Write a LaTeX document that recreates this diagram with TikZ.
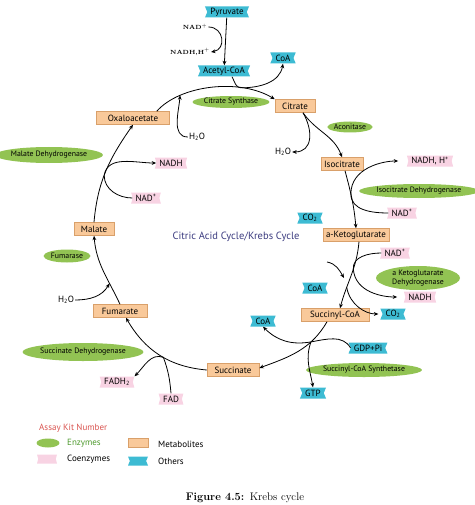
\documentclass[tikz,border=0pt]{standalone}
\usepackage{fontspec}
\newfontfamily\labelfont{PT Sans}
\usetikzlibrary{arrows.meta,positioning,shapes.geometric,shapes.symbols}

\definecolor{metabfill}{HTML}{F9C99A}
\definecolor{metabline}{HTML}{D9A06A}
\definecolor{enzfill}{HTML}{92C353}
\definecolor{coenzfill}{HTML}{F8D3E3}
\definecolor{otherfill}{HTML}{3DBBD3}
\definecolor{titleblue}{HTML}{3C3C80}
\definecolor{kitred}{HTML}{D9534F}
\definecolor{enztext}{HTML}{4E9A2E}

\tikzset{
  metab/.style={draw=metabline, fill=metabfill, line width=0.5pt,
    font=\labelfont\fontsize{9}{10}\selectfont, minimum height=13pt,
    inner xsep=3pt, inner ysep=1pt},
  enzyme/.style={ellipse, fill=enzfill, inner sep=0pt, align=center,
    font=\labelfont\fontsize{7.8}{8.5}\selectfont},
  coenz/.style={signal, signal from=west and east, signal to=nowhere,
    signal pointer angle=150, fill=coenzfill, minimum height=11pt,
    font=\labelfont\fontsize{9}{10}\selectfont, inner xsep=3pt, inner ysep=1pt},
  other/.style={coenz, fill=otherfill, signal pointer angle=135},
  plain/.style={font=\labelfont\fontsize{9}{10}\selectfont, inner sep=1pt},
  arr/.style={-{Stealth[length=4.5pt,width=3.8pt]}, line width=0.8pt},
}

\begin{document}
\begin{tikzpicture}[x=1pt,y=-1pt]
  \useasboundingbox (0,0) rectangle (474,505);

  % metabolites
  \node[metab, minimum width=73pt] (oxa) at (133,118) {Oxaloacetate};
  \node[metab, minimum width=40pt] (cit) at (295,106) {Citrate};
  \node[metab, minimum width=40pt] (iso) at (342,164) {Isocitrate};
  \node[metab, minimum width=65pt] (akg) at (356,235) {a-Ketoglutarate};
  \node[metab, minimum width=68pt] (sca) at (335,315) {Succinyl-CoA};
  \node[metab, minimum width=52pt] (suc) at (233,370) {Succinate};
  \node[metab, minimum width=54pt] (fum) at (120,311) {Fumarate};
  \node[metab, minimum width=40pt] (mal) at (94,229) {Malate};

  % enzymes
  \node[enzyme, minimum width=62pt, minimum height=12pt] (cs) at (231,102) {Citrate Synthase};
  \node[enzyme, minimum width=45pt, minimum height=11pt] (acon) at (350,127) {Aconitase};
  \node[enzyme, minimum width=105pt, minimum height=14pt] (idh) at (419,191) {Isocitrate Dehydrogenase};
  \node[enzyme, minimum width=84pt, minimum height=24pt] (akgdh) at (418,278) {a Ketoglutarate\\Dehydrogenase};
  \node[enzyme, minimum width=102pt, minimum height=14pt] (scs) at (364,370) {Succinyl-CoA Synthetase};
  \node[enzyme, minimum width=106pt, minimum height=18pt] (sdh) at (83,352) {Succinate Dehydrogenase};
  \node[enzyme, minimum width=47pt, minimum height=13pt] (fumase) at (67,256) {Fumarase};
  \node[enzyme, minimum width=92pt, minimum height=16pt] (mdh) at (49,155) {Malate Dehydrogenase};

  % coenzymes
  \node[coenz] (nadhh2) at (430,161) {NADH, H\textsuperscript{+}};
  \node[coenz] (nad2) at (402,213) {NAD\textsuperscript{+}};
  \node[coenz] (nad3) at (395,253) {NAD\textsuperscript{+}};
  \node[coenz] (nadh3) at (420,297) {NADH};
  \node[coenz] (fadh2) at (117,382) {FADH\textsubscript{2}};
  \node[coenz] (fad) at (171,399) {FAD};
  \node[coenz] (nad4) at (146,198) {NAD\textsuperscript{+}};
  \node[coenz] (nadh4) at (171,163) {NADH};

  % others
  \node[other] (pyr) at (227,12) {Pyruvate};
  \node[other] (acoa) at (224,71) {Acetyl-CoA};
  \node[other] (coa1) at (283,58) {CoA};
  \node[other] (co2a) at (310,218) {CO\textsubscript{2}};
  \node[other] (coa2) at (315,288) {CoA};
  \node[other] (co2b) at (393,314) {CO\textsubscript{2}};
  \node[other] (coa3) at (263,321) {CoA};
  \node[other] (gdp) at (368,348) {GDP+Pi};
  \node[other] (gtp) at (313,393) {GTP};

  % plain labels
  \node[font=\fontsize{6}{7}\selectfont\bfseries, inner sep=1pt] (nadp1) at (195,27) {NAD$^+$};
  \node[font=\fontsize{6}{7}\selectfont\bfseries, inner sep=1pt] (nadhh1) at (190,52) {NADH,H$^+$};
  \node[plain] (h2o1) at (197,137) {H\textsubscript{2}O};
  \node[plain] (h2o2) at (283,152) {H\textsubscript{2}O};
  \node[plain] (h2o3) at (66,300) {H\textsubscript{2}O};
  \node[font=\labelfont\fontsize{10.5}{12}\selectfont, text=titleblue] (title) at (236,237) {Citric Acid Cycle/Krebs Cycle};

  % pyruvate to acetyl-CoA
  \draw[arr] (pyr) -- (acoa);
  \draw[arr] (nadp1.east) to[out=0,in=10,looseness=1.6] (nadhh1.east);

  % oxaloacetate to citrate
  \draw[arr] ([xshift=-13pt]oxa.north east) .. controls (180,85) and (240,78) ..
    coordinate[pos=0.25] (jcs) coordinate[pos=0.72] (jac) (cit.north west);
  \draw[arr] (h2o1.west) to[out=180,in=-95] (jcs);
  \draw[arr] ([xshift=8pt]acoa.south) to[out=-60,in=180] (jac) to[out=0,in=-100] (coa1.south);

  % citrate to isocitrate
  \draw[arr] ([xshift=8pt]cit.south) to[out=-55,in=110] (iso.north);
  \draw[arr] ([xshift=8pt]cit.south) to[out=-60,in=0,looseness=1.3] (h2o2.east);

  % isocitrate to a-ketoglutarate
  \draw[arr] ([xshift=3pt]iso.south) to[out=-75,in=95] coordinate[pos=0.4] (jidh) (akg.north);
  \draw[arr, shorten >=10pt] (nad2.west) to[out=180,in=-90] (jidh) to[out=90,in=180] (nadhh2.west);

  % a-ketoglutarate to succinyl-CoA
  \draw[arr] ([xshift=3pt]akg.south) to[out=-95,in=75]
    coordinate[pos=0.4] (jkg) coordinate[pos=0.7] (jkg2) ([xshift=5pt]sca.north);
  \draw[arr, shorten >=8pt] (nad3.west) to[out=180,in=95] (jkg) to[out=-85,in=180] (nadh3.west);
  \draw[arr, shorten >=4pt] (jkg2) to[out=-80,in=180] (co2b.west);
  \coordinate (coain) at (327,262);
  \coordinate (coaend) at (344,278);
  \draw[arr] (coain) to[out=-10,in=120] (coaend);

  % succinyl-CoA to succinate
  \draw[arr] ([xshift=-8pt]sca.south) to[out=-120,in=20] coordinate[pos=0.3] (jsc) ([yshift=2pt]suc.east);
  \draw[arr] (gdp.west) to[out=120,in=10] (jsc) to[out=190,in=-45] (coa3.south);
  \draw[arr] (jsc) to[out=-110,in=100] (gtp.north);

  % succinate to fumarate
  \draw[arr] (suc.west) to[out=175,in=-60] coordinate[pos=0.45] (jsd) ([xshift=6pt]fum.south);
  \draw[arr] (fad.north) to[out=95,in=-70] (jsd) to[out=160,in=45] (fadh2.north east);

  % fumarate to malate
  \draw[arr] (fum.north) to[out=115,in=-85] coordinate[pos=0.3] (jfu) (mal.south);
  \draw[arr] (h2o3.east) to[out=0,in=-120] (jfu);

  % malate to oxaloacetate
  \draw[arr] (mal.north) to[out=85,in=-125] coordinate[pos=0.45] (jmd) (oxa.south);
  \draw[arr] (nad4.west) to[out=180,in=-90] (jmd) to[out=80,in=180] (nadh4.west);

  % legend
  \node[font=\labelfont\fontsize{9}{10}\selectfont, text=kitred, anchor=west, inner sep=0pt] (kit) at (39,428) {Assay Kit Number};
  \node[enzyme, minimum width=23pt, minimum height=9pt] (lenz) at (48,443) {};
  \node[plain, text=enztext, anchor=west] (lenzt) at (66,443) {Enzymes};
  \node[coenz, minimum width=20pt, minimum height=9pt] (lco) at (47,459) {};
  \node[plain, anchor=west] (lcot) at (66,459) {Coenzymes};
  \node[metab, minimum width=20pt, minimum height=9pt] (lmet) at (138,443) {};
  \node[plain, anchor=west] (lmett) at (157,444) {Metabolites};
  \node[other, minimum width=20pt, minimum height=9pt] (loth) at (138,461) {};
  \node[plain, anchor=west] (lotht) at (157,461) {Others};

  % caption
  \node[font=\fontsize{11}{13}\selectfont] (cap) at (245,498) {\textbf{Figure 4.5:}\enspace Krebs cycle};
\end{tikzpicture}
\end{document}
